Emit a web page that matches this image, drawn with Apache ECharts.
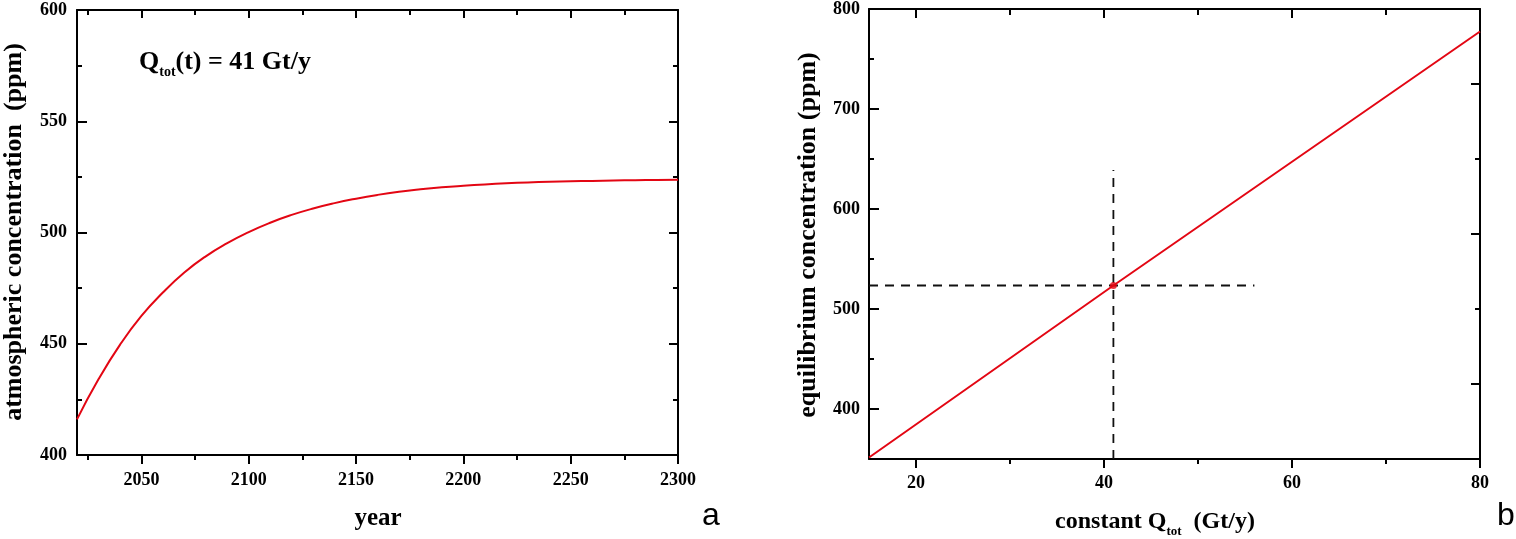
<!DOCTYPE html>
<html><head><meta charset="utf-8">
<script src="https://cdn.jsdelivr.net/npm/echarts@6/dist/echarts.min.js"></script>
<style>html,body{margin:0;padding:0;background:#fff}#c{width:1516px;height:539px}</style>
</head><body><div id="c"></div>
<script>
// ---- Panel a: atmospheric concentration under constant emissions ----
const years = [2020,2030,2040,2050,2060,2070,2080,2090,2100,2110,2120,2130,2140,2150,2160,2170,2180,2190,2200,2210,2220,2230,2240,2250,2260,2270,2280,2290,2300];
const concentration = [416,434,449.5,462.5,473,482,489.3,495.2,500.2,504.4,507.9,510.8,513.2,515.2,516.9,518.3,519.4,520.3,521.0,521.6,522.1,522.5,522.8,523.0,523.2,523.4,523.5,523.6,523.7];
const leftXMajor = [2050,2100,2150,2200,2250,2300];
const leftXMinor = [2025,2075,2125,2175,2225,2275];
const leftYMajor = [400,450,500,550,600];
const leftYMinor = [425,475,525,575];

// ---- Panel b: equilibrium concentration vs constant Q_tot ----
const qValues = [15,41,80];
const eqValues = [351.5,523.5,777.5];
const markerQ = 41;
const markerC = 523.5;
const vDashTop = 639;
const hDashEnd = 56;
const rightXMajor = [20,40,60,80];
const rightXMinor = [30,50,70];
const rightYMajor = [400,500,600,700,800];
const rightYMinor = [450,550,650,750];
const rightEdgeLong = [425,575,725];
const rightEdgeShort = [500,650];

const SERIF = "'Liberation Serif','Times New Roman',serif";
const SANS = "'Liberation Sans',Arial,sans-serif";

function axis(gridIndex, position, min, max, ticks, len, inside, labels, margin, showLine) {
  return {
    type: 'value', gridIndex, position, min, max,
    axisLine: {show: showLine, onZero: false, lineStyle: {color: '#000', width: 2}},
    axisTick: {show: true, inside, length: len, customValues: ticks, lineStyle: {color: '#000', width: 2}},
    axisLabel: labels ? {show: true, customValues: labels, margin, formatter: v => String(v),
      color: '#000', fontFamily: SERIF, fontWeight: 'bold', fontSize: 18} : {show: false},
    splitLine: {show: false}
  };
}

const chart = echarts.init(document.getElementById('c'));
chart.setOption({
  animation: false,
  backgroundColor: '#fff',
  grid: [
    {left: 77, top: 10, width: 601, height: 445},
    {left: 869, top: 8, width: 611, height: 451}
  ],
  xAxis: [
    axis(0, 'bottom', 2020, 2300, leftXMajor, 9, false, leftXMajor, 16, true),
    axis(0, 'bottom', 2020, 2300, leftXMinor, 5, false, null, 0, false),
    axis(0, 'top', 2020, 2300, leftXMajor, 8, true, null, 0, true),
    axis(0, 'top', 2020, 2300, leftXMinor, 5, true, null, 0, false),
    axis(1, 'bottom', 15, 80, rightXMajor, 9, false, rightXMajor, 15, true),
    axis(1, 'bottom', 15, 80, rightXMinor, 5, false, null, 0, false),
    axis(1, 'top', 15, 80, rightXMajor, 9, true, null, 0, true),
    axis(1, 'top', 15, 80, rightXMinor, 6, true, null, 0, false)
  ],
  yAxis: [
    axis(0, 'left', 400, 600, leftYMajor, 10, true, leftYMajor, 10, true),
    axis(0, 'left', 400, 600, leftYMinor, 5, true, null, 0, false),
    axis(0, 'right', 400, 600, leftYMajor, 9, true, null, 0, true),
    axis(0, 'right', 400, 600, leftYMinor, 5, true, null, 0, false),
    axis(1, 'left', 350, 800, rightYMajor, 10, true, rightYMajor, 9, true),
    axis(1, 'left', 350, 800, rightYMinor, 5, true, null, 0, false),
    axis(1, 'right', 350, 800, rightEdgeLong, 9, true, null, 0, true),
    axis(1, 'right', 350, 800, rightEdgeShort, 5, true, null, 0, false)
  ],
  series: [
    {type: 'line', xAxisIndex: 0, yAxisIndex: 0, smooth: true, symbol: 'none',
     data: years.map((y, i) => [y, concentration[i]]),
     lineStyle: {color: '#e30613', width: 2}},
    {type: 'line', xAxisIndex: 4, yAxisIndex: 4, symbol: 'none',
     data: [[markerQ, 350], [markerQ, vDashTop]],
     lineStyle: {color: '#111', width: 1.8, type: [9, 7]}},
    {type: 'line', xAxisIndex: 4, yAxisIndex: 4, symbol: 'none',
     data: [[15, markerC], [hDashEnd, markerC]],
     lineStyle: {color: '#111', width: 1.8, type: [9, 7]}},
    {type: 'line', xAxisIndex: 4, yAxisIndex: 4, symbol: 'none', z: 3,
     data: qValues.map((q, i) => [q, eqValues[i]]),
     lineStyle: {color: '#e30613', width: 2}},
    {type: 'scatter', xAxisIndex: 4, yAxisIndex: 4, symbol: 'circle', symbolSize: 7, z: 4,
     data: [[markerQ, markerC]], itemStyle: {color: '#e30613'}}
  ],
  graphic: [
    {type: 'text', x: 378, y: 519, style: {text: 'year', fill: '#000',
      font: "bold 25px " + SERIF, align: 'center', verticalAlign: 'middle',
      textAlign: 'center', textVerticalAlign: 'middle'}},
    {type: 'text', x: 14, y: 232, rotation: Math.PI / 2, style: {text: 'atmospheric concentration  (ppm)', fill: '#000',
      font: "bold 26px " + SERIF, align: 'center', verticalAlign: 'middle',
      textAlign: 'center', textVerticalAlign: 'middle'}},
    {type: 'text', x: 808, y: 235, rotation: Math.PI / 2, style: {text: 'equilibrium concentration (ppm)', fill: '#000',
      font: "bold 26px " + SERIF, align: 'center', verticalAlign: 'middle',
      textAlign: 'center', textVerticalAlign: 'middle'}},
    {type: 'text', x: 139, y: 62, style: {
      text: '{q|Q}{s|tot}{q|(t) = 41 Gt/y}',
      align: 'left', verticalAlign: 'middle', textAlign: 'left', textVerticalAlign: 'middle',
      rich: {
        q: {fontFamily: SERIF, fontWeight: 'bold', fontSize: 26, lineHeight: 34, fill: '#000', color: '#000', verticalAlign: 'middle'},
        s: {fontFamily: SERIF, fontWeight: 'bold', fontSize: 14, lineHeight: 14, fill: '#000', color: '#000', verticalAlign: 'bottom'}
      }}},
    {type: 'text', x: 1155, y: 522, style: {
      text: '{q|constant Q}{s|tot}{q|  (Gt/y)}',
      align: 'center', verticalAlign: 'middle', textAlign: 'center', textVerticalAlign: 'middle',
      rich: {
        q: {fontFamily: SERIF, fontWeight: 'bold', fontSize: 24, lineHeight: 32, fill: '#000', color: '#000', verticalAlign: 'middle'},
        s: {fontFamily: SERIF, fontWeight: 'bold', fontSize: 13, lineHeight: 13, fill: '#000', color: '#000', verticalAlign: 'bottom'}
      }}},
    {type: 'text', x: 711, y: 516, style: {text: 'a', fill: '#000', font: "32px " + SANS,
      align: 'center', verticalAlign: 'middle', textAlign: 'center', textVerticalAlign: 'middle'}},
    {type: 'text', x: 1506, y: 516, style: {text: 'b', fill: '#000', font: "32px " + SANS,
      align: 'center', verticalAlign: 'middle', textAlign: 'center', textVerticalAlign: 'middle'}}
  ]
});
</script>
</body></html>
